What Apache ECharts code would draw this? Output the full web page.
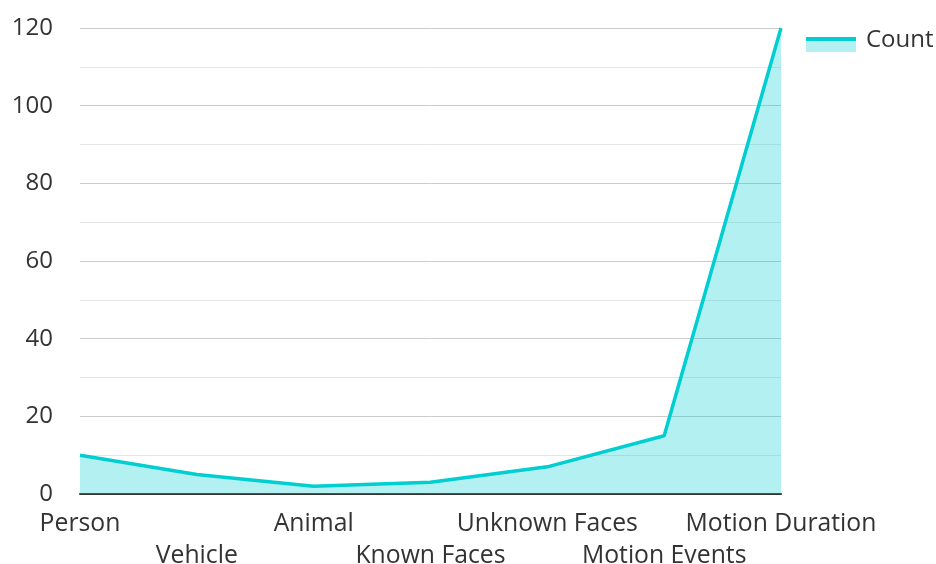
<!DOCTYPE html>
<html>
<head>
<meta charset="utf-8">
<script src="https://cdn.jsdelivr.net/npm/echarts@6/dist/echarts.min.js"></script>
<style>
  html, body { margin: 0; padding: 0; background: #fff; }
  #chart { width: 936px; height: 564px; }
</style>
</head>
<body>
<div id="chart"></div>
<script>
const categories = ["Person", "Vehicle", "Animal", "Known Faces", "Unknown Faces", "Motion Events", "Motion Duration"];
const counts = [10, 5, 2, 3, 7, 15, 120];
const yTicks = [0, 20, 40, 60, 80, 100, 120];

const lineColor = "#00ced1";
const areaColor = "rgba(0, 206, 209, 0.3)";
const font = "'Open Sans', 'Noto Sans', sans-serif";

const chart = echarts.init(document.getElementById("chart"));

chart.setOption({
  animation: false,
  textStyle: { fontFamily: font },
  grid: { left: 80, right: 155, top: 28, bottom: 70, outerBoundsMode: "none" },
  legend: {
    left: 806,
    top: 28,
    padding: 0,
    icon: "rect",
    itemWidth: 50,
    itemHeight: 15,
    textStyle: { fontSize: 24, color: "#333", fontFamily: font, padding: [0, 0, 0, 5] },
    itemStyle: { color: "transparent", borderWidth: 0 },
    data: ["Count"]
  },
  // legend swatch: pale area block with the line colour along its top
  graphic: [
    { type: "rect", left: 806, top: 37, shape: { width: 50, height: 15 }, style: { fill: areaColor }, silent: true },
    { type: "rect", left: 806, top: 37, shape: { width: 50, height: 4 }, style: { fill: lineColor }, silent: true }
  ],
  xAxis: {
    type: "category",
    data: categories,
    boundaryGap: false,
    axisLine: { lineStyle: { color: "#333", width: 2 } },
    axisTick: { show: false },
    axisLabel: {
      interval: 0,
      fontSize: 24.75,
      color: "#333",
      lineHeight: 32,
      margin: 14,
      formatter: (v, i) => (i % 2 ? "\n" : "") + v
    }
  },
  yAxis: {
    type: "value",
    min: yTicks[0],
    max: yTicks[yTicks.length - 1],
    interval: 20,
    axisLine: { show: false },
    axisTick: { show: false },
    axisLabel: { fontSize: 24, color: "#333", margin: 27 },
    splitLine: { lineStyle: { color: "#ccc", width: 1 } },
    minorTick: { show: false, splitNumber: 2 },
    minorSplitLine: { show: true, lineStyle: { color: "#e6e6e6", width: 1 } }
  },
  series: [{
    name: "Count",
    type: "line",
    data: counts,
    symbol: "none",
    lineStyle: { color: lineColor, width: 3.5 },
    itemStyle: { color: lineColor },
    areaStyle: { color: lineColor, opacity: 0.3 }
  }]
});
</script>
</body>
</html>
